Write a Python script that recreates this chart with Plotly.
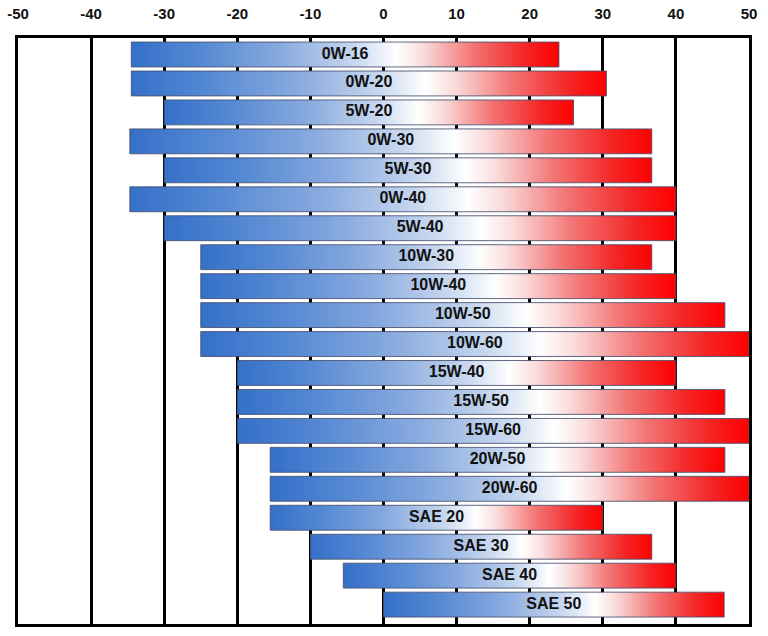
import plotly.graph_objects as go

grades = ["0W-16", "0W-20", "5W-20", "0W-30", "5W-30", "0W-40", "5W-40",
          "10W-30", "10W-40", "10W-50", "10W-60", "15W-40", "15W-50", "15W-60",
          "20W-50", "20W-60", "SAE 20", "SAE 30", "SAE 40", "SAE 50"]
low_temp = [-34.5, -34.5, -30, -34.7, -30, -34.7, -30,
            -25, -25, -25, -25, -20, -20, -20,
            -15.5, -15.5, -15.5, -10, -5.5, 0]
high_temp = [24, 30.5, 26, 36.7, 36.7, 40, 40,
             36.7, 40, 46.7, 50, 40, 46.7, 50,
             46.7, 50, 30, 36.7, 40, 46.6]
tick_values = [-50, -40, -30, -20, -10, 0, 10, 20, 30, 40, 50]

HALF = 0.43
gradient = [[0.0, "#3570c8"], [0.15, "#5287d3"], [0.35, "#88aadf"],
            [0.52, "#c6d6ee"], [0.62, "#ffffff"], [0.68, "#fadcdc"],
            [0.8, "#f37474"], [0.92, "#f42626"], [1.0, "#ff0000"]]

fig = go.Figure()
for i, (name, lo, hi) in enumerate(zip(grades, low_temp, high_temp)):
    fig.add_trace(go.Scatter(
        x=[lo, hi, hi, lo, lo],
        y=[i - HALF, i - HALF, i + HALF, i + HALF, i - HALF],
        mode="lines", fill="toself",
        fillgradient=dict(type="horizontal", colorscale=gradient, start=lo, stop=hi),
        line=dict(color="rgba(70,80,110,0.85)", width=1),
        hoverinfo="skip", showlegend=False,
    ))

fig.add_trace(go.Scatter(
    x=[(lo + hi) / 2 for lo, hi in zip(low_temp, high_temp)],
    y=list(range(len(grades))),
    mode="text",
    text=[f"<b>{g}</b>" for g in grades],
    textfont=dict(family="Arial", size=16, color="#111111"),
    hoverinfo="skip", showlegend=False,
))

fig.update_layout(
    width=768, height=636,
    margin=dict(l=18, r=19, t=38, b=12, autoexpand=False),
    paper_bgcolor="white", plot_bgcolor="white",
    xaxis=dict(
        range=[-50, 50], side="top", tickvals=tick_values,
        ticktext=[f"<b>{v}</b>" for v in tick_values],
        tickfont=dict(family="Arial", size=15, color="#111111"),
        ticks="outside", ticklen=10, tickcolor="rgba(0,0,0,0)",
        showgrid=True, gridcolor="black", gridwidth=3,
        showline=True, linecolor="black", linewidth=3, mirror=True,
        zeroline=False, layer="below traces", automargin=False,
    ),
    yaxis=dict(
        range=[19.67, -0.57], showticklabels=False, showgrid=False,
        zeroline=False, showline=True, linecolor="black", linewidth=3, mirror=True,
        automargin=False,
    ),
)

fig.write_html("out.html")
